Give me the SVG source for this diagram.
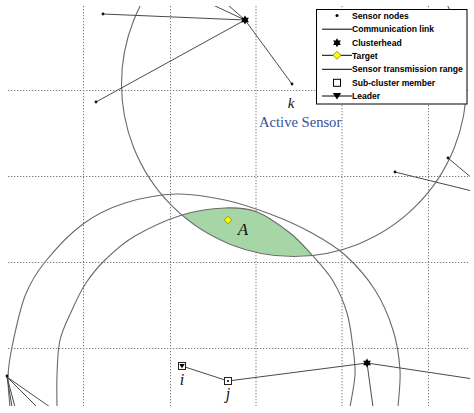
<svg xmlns="http://www.w3.org/2000/svg" width="474" height="413" viewBox="0 0 474 413">
<style>
.grid{stroke:#7a7a7a;stroke-width:1;stroke-dasharray:1.3 1.7;fill:none}
.range{stroke:#6a6a6a;stroke-width:1.1;fill:none}
.link{stroke:#4a4a4a;stroke-width:1;fill:none}
.dot{fill:#111}
.lg{font-family:"Liberation Sans",Arial,sans-serif;font-weight:bold;font-size:8.6px;fill:#000}
.it{font-family:"Liberation Serif","Times New Roman",serif;font-style:italic;fill:#111}
.sq{fill:#fff;stroke:#222;stroke-width:1}
</style>
<defs>
<polygon id="star" points="0,-4.5 1.3,-2.25 3.9,-2.25 2.6,0 3.9,2.25 1.3,2.25 0,4.5 -1.3,2.25 -3.9,2.25 -2.6,0 -3.9,-2.25 -1.3,-2.25" fill="#000"/>
<clipPath id="plot"><rect x="0" y="6" width="474" height="400"/></clipPath>
</defs>
<rect width="474" height="413" fill="#fff"/>
<g id="grid" class="grid">
<path d="M83.5,6V406M170.5,6V406M256,6V406M342,6V406M428.5,6V406"/>
<path d="M8,90.5H468M8,176.5H468M8,262.5H468M8,348.5H468"/>
</g>
<g id="coverage" clip-path="url(#plot)">
<path id="lens" d="M182,215 C197,210.3 212.5,208.5 225,208 C237.5,207.5 246.2,207.8 257,212 C267.8,216.2 280.8,225.8 290,233 C299.2,240.2 304.8,247 312,255 A172.5,172.5 0 0 1 182,215 Z" fill="#a6d6a6" stroke="none"/>
<circle id="range-k" class="range" cx="294" cy="84" r="172.5"/>
<path id="range-outer" class="range" d="M10,407 C9.7,402 7.7,387 8,377 C8.3,367 9.2,360.5 12,347 C14.8,333.5 19.5,310.2 25,296 C30.5,281.8 35.3,274 45,262 C54.7,250 69.7,233.8 83,224 C96.3,214.2 109.3,208 125,203 C140.7,198 160.3,194.5 177,194 C193.7,193.5 209.5,196.7 225,200 C240.5,203.3 255.8,208.7 270,214 C284.2,219.3 297.5,225.2 310,232 C322.5,238.8 334.2,245.3 345,255 C355.8,264.7 367,277.5 375,290 C383,302.5 388.8,316.7 393,330 C397.2,343.3 399.2,357.2 400,370 C400.8,382.8 398.3,400.8 398,407"/>
<path id="range-inner" class="range" d="M57,407 C57,401.7 56.5,386.2 57,375 C57.5,363.8 57.5,350.8 60,340 C62.5,329.2 67.7,319.5 72,310 C76.3,300.5 80.3,291.5 86,283 C91.7,274.5 97.8,266.8 106,259 C114.2,251.2 122.3,243.3 135,236 C147.7,228.7 167,219.7 182,215 C197,210.3 212.5,208.5 225,208 C237.5,207.5 246.2,207.8 257,212 C267.8,216.2 280.8,225.8 290,233 C299.2,240.2 304.8,247 312,255 C319.2,263 327.2,271.3 333,281 C338.8,290.7 343.7,301.8 347,313 C350.3,324.2 351.7,337.7 353,348 C354.3,358.3 355.5,365.2 355,375 C354.5,384.8 350.8,401.7 350,407"/>
</g>
<g id="connectors" class="link" clip-path="url(#plot)">
<path d="M245,20L103,14M245,20L96,102M245,20L292,84M245,20L213,5M245,20L228,5"/>
<path d="M395,172L470,190.5M448,158L470,176.5"/>
<path d="M7,377L50,407M7,377L37,407M7,377L15,407M7,377L12,407"/>
<path d="M182,366L228,381L367,363L470,378.5M367,363L373,407"/>
</g>
<g id="ch-top"><use href="#star" x="245" y="20"/></g>
<g id="s1"><circle class="dot" cx="103" cy="14" r="1.4"/></g>
<g id="s2"><circle class="dot" cx="96" cy="102" r="1.4"/></g>
<g id="k"><circle class="dot" cx="292" cy="84" r="1.4"/><text class="it" x="291" y="108" font-size="15" text-anchor="middle">k</text></g>
<g id="active-label"><text x="259" y="127" font-family="'Liberation Serif','Times New Roman',serif" font-size="14.6" fill="#34509a">Active Sensor</text></g>
<g id="s3"><circle class="dot" cx="395" cy="172" r="1.4"/></g>
<g id="s4"><circle class="dot" cx="448" cy="158" r="1.4"/></g>
<g id="s5"><circle class="dot" cx="7" cy="376" r="1.4"/></g>
<g id="target"><polygon points="228,216.3 231.7,220 228,223.7 224.3,220" fill="#ffff00" stroke="#808000" stroke-width="0.8"/><text class="it" x="243" y="235" font-size="17" text-anchor="middle">A</text></g>
<g id="i"><rect class="sq" x="178.5" y="362.5" width="7" height="7"/><polygon points="179.3,364 184.7,364 182,368.3" fill="#000"/><text class="it" x="182" y="385" font-size="16" text-anchor="middle">i</text></g>
<g id="j"><rect class="sq" x="224.5" y="377.5" width="7" height="7"/><circle class="dot" cx="228" cy="381" r="1.1"/><text class="it" x="228" y="399" font-size="16" text-anchor="middle">j</text></g>
<g id="ch-bottom"><use href="#star" x="367" y="363"/></g>
<g id="legend">
<rect x="316.5" y="9.5" width="150.5" height="94.5" fill="#fff" stroke="#000" stroke-width="1"/>
<circle cx="337" cy="15.5" r="1.5" fill="#000"/>
<path d="M322,29.2H352M322,55.3H352M322,69.3H352M322,96H352" stroke="#000" stroke-width="1"/>
<use href="#star" x="337" y="42.7"/>
<polygon points="337,51.3 341,55.3 337,59.3 333,55.3" fill="#ffff00" stroke="#808000" stroke-width="0.8"/>
<rect x="333.5" y="79.3" width="7" height="7" fill="#fff" stroke="#000" stroke-width="1"/>
<polygon points="332.8,93 341.2,93 337,99.5" fill="#000"/>
<text class="lg" x="352" y="19">Sensor nodes</text>
<text class="lg" x="352" y="32">Communication link</text>
<text class="lg" x="352" y="45.5">Clusterhead</text>
<text class="lg" x="352" y="58.5">Target</text>
<text class="lg" x="352" y="72">Sensor transmission range</text>
<text class="lg" x="352" y="86">Sub-cluster member</text>
<text class="lg" x="352" y="99">Leader</text>
</g>
</svg>
